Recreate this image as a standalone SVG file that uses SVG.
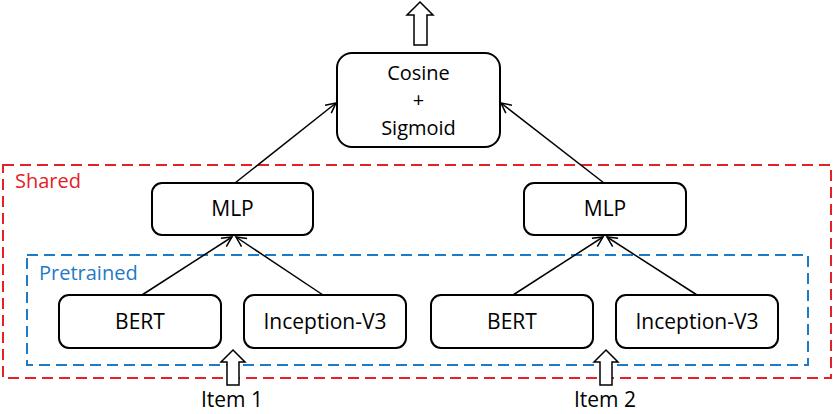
<svg xmlns="http://www.w3.org/2000/svg" width="835" height="414" viewBox="0 0 835 414">
<defs>
<style>
text{font-family:"Open Sans","Noto Sans","DejaVu Sans",sans-serif;}
.box{fill:#fff;stroke:#000;stroke-width:2;}
.lbl{font-size:21px;fill:#000;text-anchor:middle;}
.edge{stroke:#000;stroke-width:1.5;fill:none;marker-end:url(#ah);}
.hollow{fill:#fff;stroke:#000;stroke-width:1.5;stroke-linejoin:miter;}
.red{fill:none;stroke:#e32226;stroke-width:2;stroke-dasharray:11 6;}
.blue{fill:none;stroke:#1f7ac6;stroke-width:2;stroke-dasharray:11 6;}
</style>
<marker id="ah" markerUnits="userSpaceOnUse" markerWidth="14" markerHeight="14" viewBox="-12 -7 14 14" refX="0" refY="0" orient="auto">
<path d="M-10,-5 L0,0 L-10,5" fill="none" stroke="#000" stroke-width="1.5"/>
</marker>
</defs>

<g id="groups">
<rect class="red" x="3" y="165" width="828" height="213"/>
<text x="15" y="188" font-size="20" fill="#e32226">Shared</text>
<rect class="blue" x="27" y="255" width="781" height="110"/>
<text x="39" y="280" font-size="20" fill="#1f7ac6">Pretrained</text>
</g>

<g id="connectors">
<line class="edge" x1="142" y1="295" x2="232" y2="237"/>
<line class="edge" x1="323" y1="295" x2="236" y2="237"/>
<line class="edge" x1="513" y1="295" x2="603" y2="237"/>
<line class="edge" x1="697" y1="295" x2="607" y2="237"/>
<line class="edge" x1="235" y1="183" x2="336" y2="103"/>
<line class="edge" x1="604" y1="183" x2="501" y2="103"/>
</g>

<g id="cosine">
<rect class="box" x="337" y="53" width="163" height="94" rx="15"/>
<text class="lbl" x="418.5" y="80" font-size="20" style="font-size:20px">Cosine</text>
<text class="lbl" x="418.5" y="107" style="font-size:20px">+</text>
<text class="lbl" x="418.5" y="135" style="font-size:20px">Sigmoid</text>
</g>

<g id="mlp1">
<rect class="box" x="152" y="183" width="161" height="52" rx="10"/>
<text class="lbl" x="232.5" y="216">MLP</text>
</g>
<g id="mlp2">
<rect class="box" x="524" y="183" width="162" height="52" rx="10"/>
<text class="lbl" x="605" y="216">MLP</text>
</g>
<g id="bert1">
<rect class="box" x="59" y="295" width="162" height="53" rx="10"/>
<text class="lbl" x="140" y="329">BERT</text>
</g>
<g id="inception1">
<rect class="box" x="244" y="295" width="162" height="53" rx="10"/>
<text class="lbl" x="325" y="329">Inception-V3</text>
</g>
<g id="bert2">
<rect class="box" x="431" y="295" width="162" height="53" rx="10"/>
<text class="lbl" x="512" y="329">BERT</text>
</g>
<g id="inception2">
<rect class="box" x="616" y="295" width="162" height="53" rx="10"/>
<text class="lbl" x="697" y="329">Inception-V3</text>
</g>

<g id="output">
<path class="hollow" d="M420,2 L433,15 L427,15 L427,45 L414,45 L414,15 L407,15 Z"/>
</g>
<g id="item1">
<path class="hollow" d="M233,350 L245,362 L239,362 L239,385 L227,385 L227,362 L221,362 Z"/>
<text class="lbl" x="232" y="407">Item 1</text>
</g>
<g id="item2">
<path class="hollow" d="M606,350 L618,362 L612,362 L612,385 L600,385 L600,362 L594,362 Z"/>
<text class="lbl" x="605" y="407">Item 2</text>
</g>
</svg>
